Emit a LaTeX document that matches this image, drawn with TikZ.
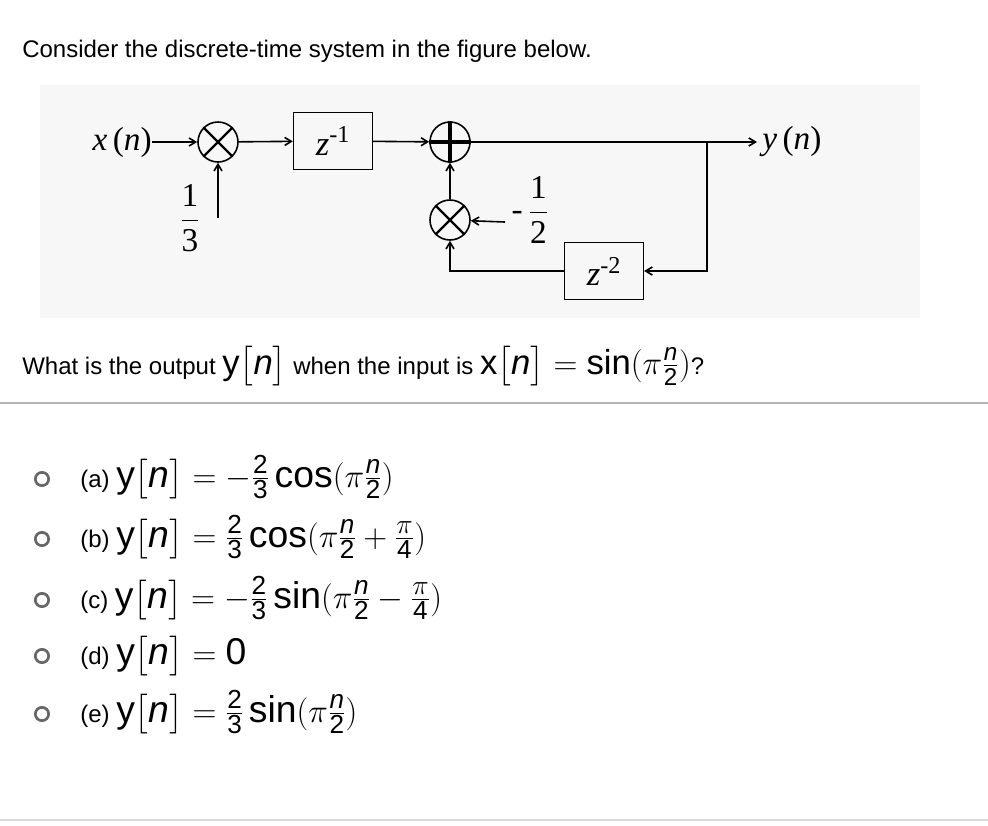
\documentclass[tikz,border=0pt]{standalone}
\usepackage{amsmath}
\usepackage{fontspec}
\setmainfont{Liberation Sans}
\newfontfamily\serifdiag{Liberation Serif}
\usetikzlibrary{arrows.meta}
\newcommand{\sn}{\text{\itshape n}}
\newcommand{\tf}[2]{\tfrac{\text{#1}}{\text{#2}}}
\begin{document}
\begin{tikzpicture}[x=0.75pt,y=-0.75pt,
  every node/.style={inner sep=0pt},
  conn/.style={line width=1.2pt,-{Straight Barb[length=5pt,width=6pt]}},
  wire/.style={line width=1.2pt},
  op/.style={draw,line width=1.2pt,circle,minimum size=30pt},
  dbox/.style={draw,line width=1.2pt,minimum width=59pt,minimum height=43pt},
  txt/.style={font=\fontsize{18}{22}\selectfont,anchor=base west},
  dlab/.style={font=\serifdiag\fontsize{25}{28}\selectfont},
  opt/.style={font=\fontsize{18}{22}\selectfont,anchor=base west},
  radio/.style={draw=gray!80!black,line width=2pt,circle,minimum size=10pt}]
\useasboundingbox (0,0) rectangle (988,825);
\fill[white] (0,0) rectangle (988,825);
\fill[black!3] (40,85) rectangle (920,318);
\node[txt] (title) at (22,57) {Consider the discrete-time system in the figure below.};
% diagram
\node[dlab,anchor=east] (x) at (152,142) {\itshape x\,\upshape(\itshape n\upshape)};
\node[op] (m1) at (218,142) {};
\node[dlab] (f3) at (190,218) {$\dfrac{\text{1}}{\text{3}}$};
\coordinate (m1in) at (218,218);
\node[dbox] (z1) at (333,141) {\serifdiag\fontsize{26}{28}\selectfont\itshape z\upshape\textsuperscript{-1}};
\node[op] (add) at (450,142) {};
\node[op] (m2) at (450,220) {};
\foreach \m in {m1,m2}{
  \draw[line width=1.8pt] (\m.north east) -- (\m.south west) (\m.north west) -- (\m.south east);}
\draw[line width=2.4pt] (add.north) -- (add.south) (add.west) -- (add.east);
\node[dlab] (f2) at (530,210) {-\,$\dfrac{\text{1}}{\text{2}}$};
\coordinate (f2in) at (505,222);
\node[dbox] (z2) at (604,271) {\serifdiag\fontsize{26}{28}\selectfont\itshape z\upshape\textsuperscript{-2}};
\coordinate (br) at (707,142);
\coordinate (yend) at (757,142);
\node[dlab,anchor=west] (y) at (762,142) {\itshape y\,\upshape(\itshape n\upshape)};
\draw[conn] (x) -- (m1);
\draw[conn] (m1in) -- (m1);
\draw[conn] (m1) -- (z1);
\draw[conn] (z1) -- (add);
\draw[wire] (add) -- (br);
\draw[conn] (br) -- (yend);
\draw[conn] (br) |- (z2);
\draw[conn] (z2.west) -| (m2);
\draw[conn] (m2) -- (add);
\draw[conn] (f2in) -- (m2);
% question
\node[txt] (q) at (22,374) {What is the output {\fontsize{26}{28}\selectfont y$\big[\sn\big]$} when the input is {\fontsize{26}{28}\selectfont x$\big[\sn\big]=\text{sin}(\pi\tfrac{\sn}{\text{2}})$}?};
\draw[gray!60,line width=1pt] (0,403) -- (988,403);
\draw[gray!30,line width=1pt] (0,820) -- (988,820);
\foreach \i/\yy/\t in {a/487/{-\tf{2}{3}\,\text{cos}(\pi\tfrac{\sn}{\text{2}})},
  b/547/{\tf{2}{3}\,\text{cos}(\pi\tfrac{\sn}{\text{2}}+\tfrac{\pi}{\text{4}})},
  c/608/{-\tf{2}{3}\,\text{sin}(\pi\tfrac{\sn}{\text{2}}-\tfrac{\pi}{\text{4}})},
  d/664/{\text{0}},
  e/722/{\tf{2}{3}\,\text{sin}(\pi\tfrac{\sn}{\text{2}})}}{
  \node[radio] (r\i) at (42,\yy-8) {};
  \node[opt] (o\i) at (80,\yy) {(\i) {\fontsize{28}{30}\selectfont y$\big[\sn\big]=\t$}};
}
\end{tikzpicture}
\end{document}
